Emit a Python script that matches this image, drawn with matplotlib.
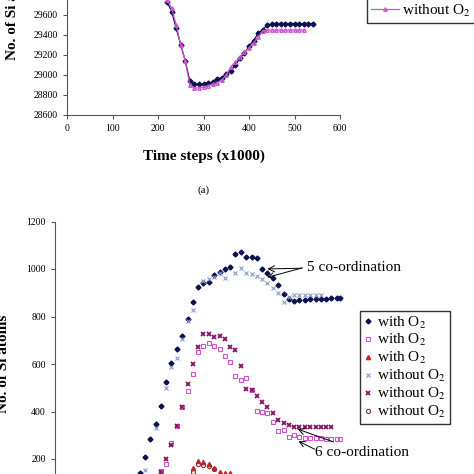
import matplotlib
matplotlib.use("Agg")
import matplotlib.pyplot as plt

plt.rcParams['font.family'] = ['Liberation Serif', 'DejaVu Serif']
plt.rcParams['mathtext.fontset'] = 'stix'

# ---- top panel (a): total Si atoms ----
t_with = [0, 100, 200, 210, 220, 230, 240, 250, 260, 270, 280, 290, 300, 310, 320, 330, 340,
          350, 360, 370, 380, 390, 400, 410, 420, 430, 440, 450, 460, 470, 480, 490, 500,
          510, 520, 530, 540]
n_with = [29950, 29950, 29930, 29880, 29733, 29633, 29467, 29300, 29140, 28940, 28907, 28907,
          28907, 28917, 28933, 28960, 28973, 29010, 29040, 29100, 29167, 29217, 29290, 29343,
          29417, 29450, 29500, 29510, 29515, 29515, 29515, 29515, 29515, 29510, 29515, 29515, 29515]
t_without = [0, 100, 200, 210, 220, 230, 240, 250, 260, 270, 280, 290, 300, 310, 320, 330, 340,
             350, 360, 370, 380, 390, 400, 410, 420, 430, 440, 450, 460, 470, 480, 490, 500, 510, 520]
n_without = [29950, 29950, 29930, 29870, 29750, 29670, 29500, 29300, 29140, 28900, 28870, 28870,
             28880, 28890, 28910, 28920, 28950, 29000, 29080, 29130, 29180, 29230, 29270, 29320,
             29380, 29440, 29450, 29450, 29450, 29450, 29450, 29450, 29450, 29450, 29450]

# ---- bottom panel (b): co-ordination counts ----
t5w = [145, 156, 166, 176, 186, 196, 205, 215, 225, 235, 245, 255, 264, 274, 284, 294, 304, 314,
       323, 333, 343, 353, 363, 373, 382, 392, 402, 412, 422, 432, 441, 451, 461, 471, 481, 491,
       500, 510, 520, 527]
n5w = [80, 140, 210, 283, 347, 424, 525, 605, 662, 716, 790, 860, 925, 942, 947, 975, 986, 1000,
       1010, 1062, 1073, 1049, 1049, 1045, 1000, 982, 961, 933, 895, 872, 867, 870, 870, 872,
       872, 874, 874, 876, 876, 876]
t5wo = [145, 156, 166, 186, 205, 215, 225, 235, 245, 255, 274, 284, 294, 304, 314, 333, 343, 353,
        363, 373, 382, 392, 402, 412, 422, 432, 441, 451, 461, 471, 481, 491]
n5wo = [70, 110, 154, 332, 500, 589, 624, 704, 781, 827, 951, 956, 968, 982, 964, 985, 1003,
        985, 979, 971, 956, 942, 919, 898, 863, 881, 891, 891, 890, 890, 891, 891]
t6w = [176, 186, 196, 205, 215, 225, 235, 245, 255, 264, 274, 284, 294, 304, 314, 323, 333, 343,
       353, 363, 373, 382, 392, 402, 412, 422, 432, 441, 451, 461, 471, 481, 491, 500, 510, 520, 527]
n6w = [80, 110, 149, 178, 266, 340, 420, 488, 557, 652, 676, 687, 676, 662, 634, 610, 550, 533,
       543, 491, 403, 400, 392, 357, 319, 322, 291, 301, 291, 287, 287, 287, 287, 285, 285, 285, 285]
t6wo = [176, 186, 196, 205, 215, 225, 235, 245, 255, 264, 274, 284, 294, 304, 314, 323, 333, 343,
        353, 363, 373, 382, 392, 402, 412, 422, 432, 441, 451, 461, 471, 481, 491, 500, 510]
n6wo = [70, 100, 144, 200, 258, 340, 420, 514, 600, 673, 725, 725, 715, 718, 707, 673, 659, 593,
        493, 491, 465, 441, 420, 395, 364, 353, 343, 336, 333, 333, 333, 333, 333, 336, 336]
t4w = [225, 235, 245, 255, 264, 274, 284, 294, 304, 314, 323]
n4w = [60, 100, 130, 161, 193, 186, 180, 161, 144, 143, 143]
t4wo = [225, 235, 245, 255, 264, 274, 284, 294]
n4wo = [55, 90, 120, 144, 180, 176, 170, 156]

navy = '#0a1050'
pink = '#cc55cc'
fig = plt.figure(figsize=(4.74, 4.74), dpi=100)

# top axes, partly above the figure edge
ax1 = fig.add_axes([67/474, (474-115)/474, 273/474, 160/474])
ax1.plot(t_with, n_with, color=navy, marker='D', ms=2.5, lw=0.9, label='with O$_2$')
ax1.plot(t_without, n_without, color=pink, marker='^', ms=2.5, mfc='none', lw=0.9,
         label='without O$_2$')
ax1.set_xlim(0, 600)
ax1.set_ylim(28600, 30200)
ax1.set_xticks(range(0, 601, 100))
ax1.set_yticks(range(28600, 30201, 200))
for s in ['top', 'right']:
    ax1.spines[s].set_visible(False)
for s in ['left', 'bottom']:
    ax1.spines[s].set_color('#555555')
ax1.tick_params(labelsize=7, length=3, direction='out', color='#555555')
ax1.set_xlabel('Time steps (x1000)', fontsize=11, fontweight='bold', labelpad=12)
ax1.text(-0.20, 0.344, 'No. of Si atoms', transform=ax1.transAxes, rotation=90,
         fontsize=11, fontweight='bold', ha='center', va='bottom')
ax1.text(0.5, -0.47, '(a)', transform=ax1.transAxes, fontsize=8, ha='center', va='center')
fig.legend(handles=ax1.get_lines(), loc='lower left', bbox_to_anchor=(359/474, (474-31)/474),
           fontsize=11, frameon=True, fancybox=False, edgecolor='black', handlelength=1.8,
           borderpad=0.3, handletextpad=0.2, labelspacing=0.1)

# bottom axes, partly below the figure edge
ax2 = fig.add_axes([55/474, (474-506.5)/474, 325/474, 285/474])
ax2.plot(t5w, n5w, ls='none', marker='D', ms=2.5, color=navy, label='with O$_2$')
ax2.plot(t6w, n6w, ls='none', marker='s', ms=3, mfc='none', mec=pink, mew=0.8, label='with O$_2$')
ax2.plot(t4w, n4w, ls='none', marker='^', ms=3, color='#cc2222', label='with O$_2$')
ax2.plot(t5wo, n5wo, ls='none', marker='x', ms=3.5, color='#8899cc', mew=0.8, label='without O$_2$')
ax2.plot(t6wo, n6wo, ls='none', marker='x', ms=3.5, color='#881166', mew=1.3, label='without O$_2$')
ax2.plot(t4wo, n4wo, ls='none', marker='o', ms=3, mfc='none', mec='#883333', mew=0.8,
         label='without O$_2$')
ax2.set_xlim(0, 600)
ax2.set_ylim(0, 1200)
ax2.set_yticks(range(0, 1201, 200))
ax2.set_xticks([])
for s in ['top', 'right']:
    ax2.spines[s].set_visible(False)
ax2.spines['left'].set_color('#555555')
ax2.tick_params(labelsize=7, length=3, direction='out', color='#555555')
ax2.set_ylabel('No. of Si atoms', fontsize=11, fontweight='bold', labelpad=12)
arrow = dict(arrowstyle='->', color='black', lw=0.7)
ax2.annotate('5 co-ordination', xy=(387, 1000), xytext=(465, 1008), fontsize=11,
             va='center', arrowprops=arrow)
ax2.annotate('', xy=(387, 962), xytext=(462, 1008), arrowprops=arrow)
ax2.annotate('6 co-ordination', xy=(443, 330), xytext=(480, 229), fontsize=11,
             va='center', arrowprops=arrow)
ax2.annotate('', xy=(445, 280), xytext=(484, 236), arrowprops=arrow)
ax2.legend(loc='upper left', bbox_to_anchor=(297/325, (506.5-303)/285), fontsize=11,
           frameon=True, fancybox=False, edgecolor='black', handlelength=0.6,
           borderpad=0.25, handletextpad=0.3, labelspacing=0.12)

fig.savefig('out.png', dpi=100)
